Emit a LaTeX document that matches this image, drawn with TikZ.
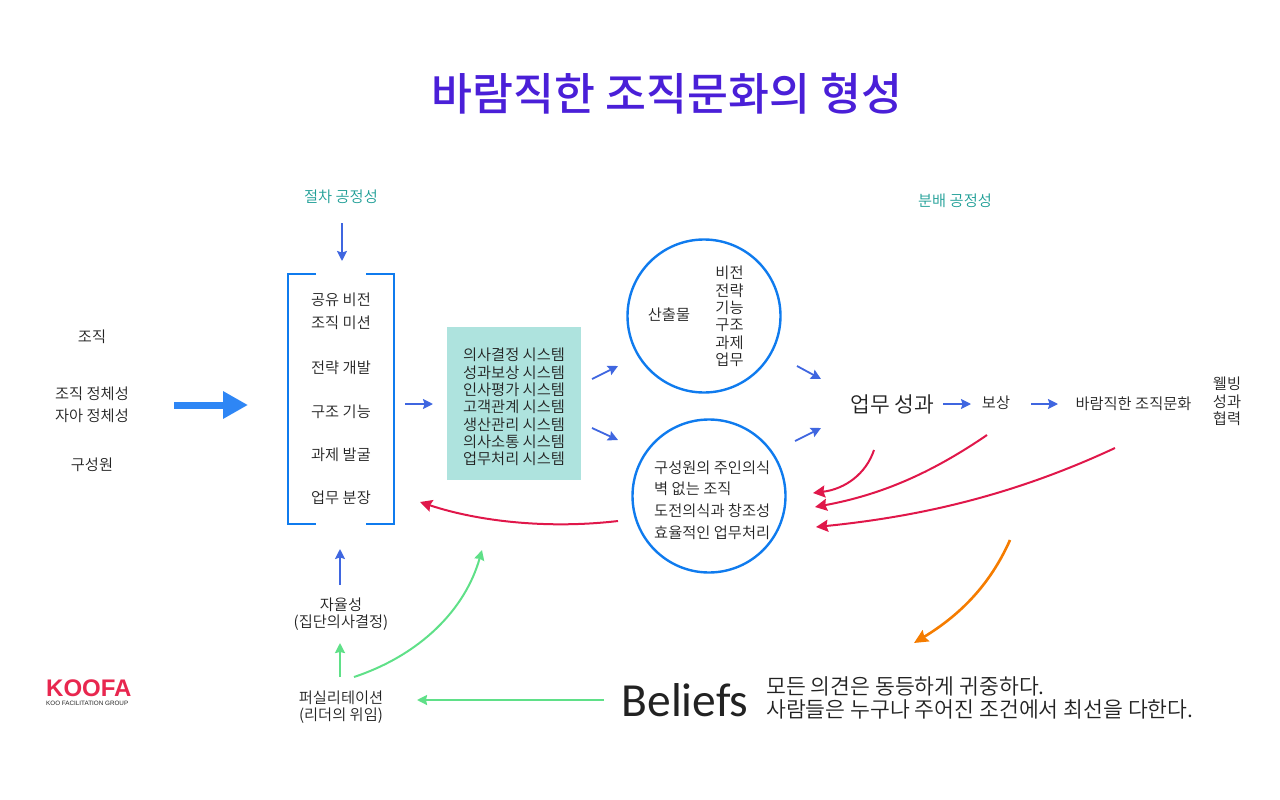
\documentclass[tikz,border=0pt]{standalone}
\usepackage{fontspec}
\setmainfont{Noto Sans CJK KR DemiLight}
\newfontfamily\titrefont{Noto Sans CJK KR Medium}
\newfontfamily\latinfont{Carlito}
\newfontfamily\logofont{Liberation Sans}
\usetikzlibrary{arrows.meta,calc}
\definecolor{titre}{HTML}{4A1FD8}
\definecolor{sarcelle}{HTML}{1E9E96}
\definecolor{bleu}{HTML}{3F66E0}
\definecolor{cadre}{HTML}{0F7BEE}
\definecolor{grosse}{HTML}{2E86F5}
\definecolor{boite}{HTML}{AEE3DE}
\definecolor{rouge}{HTML}{E0174A}
\definecolor{logorouge}{HTML}{E8274F}
\definecolor{orange}{HTML}{F57C00}
\definecolor{vert}{HTML}{5FE088}
\definecolor{encre}{HTML}{222222}
\tikzset{
  txt/.style={text=encre,inner sep=0pt,font=\fontsize{15.3}{17.3}\selectfont,align=center},
  teal/.style={text=sarcelle,inner sep=0pt,font=\fontsize{15.3}{17}\selectfont},
  fb/.style={-{Stealth[length=10pt,width=10pt,inset=1.5pt]},bleu,line width=1.8pt},
  fr/.style={-{Stealth[length=12pt,width=12pt,inset=1.5pt]},rouge,line width=2pt},
  fv/.style={-{Stealth[length=10pt,width=10pt,inset=1pt]},vert,line width=2pt},
  rond/.style={circle,draw=cadre,line width=2.4pt,minimum size=153pt,inner sep=0pt},
}

\begin{document}
\begin{tikzpicture}[x=1pt,y=-1pt]
\useasboundingbox (0,0) rectangle (1280,800);

% titre
\node[text=titre,inner sep=0pt,font=\titrefont\fontsize{44.5}{50}\selectfont] (titre) at (667,94) {바람직한 조직문화의 형성};
\node[teal] (proc) at (341,197) {절차 공정성};
\node[teal] (dist) at (955,201) {분배 공정성};

% gauche
\node[txt] (org) at (92,337) {조직};
\node[txt] (ident) at (92,394) {조직 정체성};
\node[txt] (soi) at (92,416) {자아 정체성};
\node[txt] (membre) at (92,465) {구성원};
\coordinate (g1) at (174,405);
\coordinate (g2) at (248,405);
\draw[-{Triangle[length=25pt,width=26pt]},grosse,line width=7pt] (g1) -- (g2);

% crochets
\draw[cadre,line width=1.8pt] (316,274) -- (288,274) -- (288,524) -- (316,524);
\draw[cadre,line width=1.8pt] (366,274) -- (394,274) -- (394,524) -- (366,524);
\node[txt] (l1) at (341,300) {공유 비전};
\node[txt] (l2) at (341,323) {조직 미션};
\node[txt] (l3) at (341,368) {전략 개발};
\node[txt] (l4) at (341,412) {구조 기능};
\node[txt] (l5) at (341,455) {과제 발굴};
\node[txt] (l6) at (341,498) {업무 분장};
\coordinate (p1) at (342,223);
\coordinate (p2) at (342,261);
\draw[fb] (p1) -- (p2);
\coordinate (c1) at (405,404);
\coordinate (c2) at (433,404);
\draw[fb] (c1) -- (c2);

% systemes
\node[fill=boite,minimum width=134pt,minimum height=153pt,inner sep=0pt] (sys) at (514,403.5) {};
\node[txt] (systxt) at (514,407) {의사결정 시스템\\성과보상 시스템\\인사평가 시스템\\고객관계 시스템\\생산관리 시스템\\의사소통 시스템\\업무처리 시스템};
\coordinate (s1) at (592,379);
\coordinate (s2) at (618,366);
\coordinate (s3) at (592,428);
\coordinate (s4) at (618,440);
\draw[fb] (s1) -- (s2);
\draw[fb] (s3) -- (s4);

% cercles
\node[rond] (haut) at (704,316) {};
\node[rond] (bas) at (709,496) {};
\node[txt] (prod) at (669,315) {산출물};
\node[txt] (prodl) at (729.5,316.5) {비전\\전략\\기능\\구조\\과제\\업무};
\node[txt,anchor=west] (b1) at (654,468) {구성원의 주인의식};
\node[txt,anchor=west] (b2) at (654,489) {벽 없는 조직};
\node[txt,anchor=west] (b3) at (654,511) {도전의식과 창조성};
\node[txt,anchor=west] (b4) at (654,533) {효율적인 업무처리};
\coordinate (h1) at (797,366);
\coordinate (h2) at (821,379);
\coordinate (h3) at (795,441);
\coordinate (h4) at (821,428);
\draw[fb] (h1) -- (h2);
\draw[fb] (h3) -- (h4);

% droite
\node[text=encre,inner sep=0pt,font=\fontsize{21.5}{24}\selectfont] (perf) at (892.5,404) {업무 성과};
\node[txt] (rec) at (996,403) {보상};
\node[txt] (cult) at (1133.5,404) {바람직한 조직문화};
\node[txt] (well) at (1227,401.5) {웰빙\\성과\\협력};
\coordinate (d1) at (943,404);
\coordinate (d2) at (971,404);
\draw[fb] (d1) -- (d2);
\coordinate (e1) at (1031,404);
\coordinate (e2) at (1058,404);
\draw[fb] (e1) -- (e2);

% retours
\coordinate (r1) at (874,450);
\coordinate (r2) at (813,493);
\coordinate (r3) at (987,435);
\coordinate (r4) at (815,507);
\coordinate (r5) at (1115,448);
\coordinate (r6) at (816,527);
\coordinate (r7) at (618,521);
\coordinate (r8) at (420,502);
\draw[fr] (r1) .. controls (866,474) and (845,489) .. (r2);
\draw[fr] (r3) .. controls (930,474) and (880,495) .. (r4);
\draw[fr] (r5) .. controls (1010,497) and (915,517) .. (r6);
\draw[fr] (r7) .. controls (550,529) and (480,522) .. (r8);
\coordinate (o1) at (1010,540);
\coordinate (o2) at (914,643);
\draw[-{Stealth[length=14pt,width=13pt,inset=2pt]},orange,line width=2.6pt] (o1) .. controls (990,585) and (960,615) .. (o2);

% bas
\node[txt] (auto) at (341,614) {자율성\\(집단의사결정)};
\node[txt] (faci) at (341,707.5) {퍼실리테이션\\(리더의 위임)};
\coordinate (u1) at (340,585);
\coordinate (u2) at (340,549);
\draw[fb] (u1) -- (u2);
\coordinate (v1) at (340,677);
\coordinate (v2) at (340,643);
\coordinate (v3) at (354,677);
\coordinate (v4) at (482,550);
\coordinate (v5) at (604,700);
\coordinate (v6) at (417,700);
\draw[fv] (v1) -- (v2);
\draw[fv] (v3) .. controls (420,655) and (465,610) .. (v4);
\draw[fv] (v5) -- (v6);

% croyances
\node[text=encre,inner sep=0pt,font=\latinfont\fontsize{47.5}{56}\selectfont] (bel) at (685,700) {Beliefs};
\node[text=encre,inner sep=0pt,anchor=west,align=left,font=\fontsize{21.6}{23}\selectfont] (beltxt) at (766,698) {모든 의견은 동등하게 귀중하다.\\사람들은 누구나 주어진 조건에서 최선을 다한다.};

% logo
\node[text=logorouge,inner sep=0pt,anchor=west,font=\logofont\bfseries\fontsize{24}{24}\selectfont] (logo) at (46,688) {KOOFA};
\node[text=encre,inner sep=0pt,anchor=west,font=\logofont\fontsize{6.3}{6.3}\selectfont] (logosub) at (46,703.5) {KOO FACILITATION GROUP};
\end{tikzpicture}
\end{document}
